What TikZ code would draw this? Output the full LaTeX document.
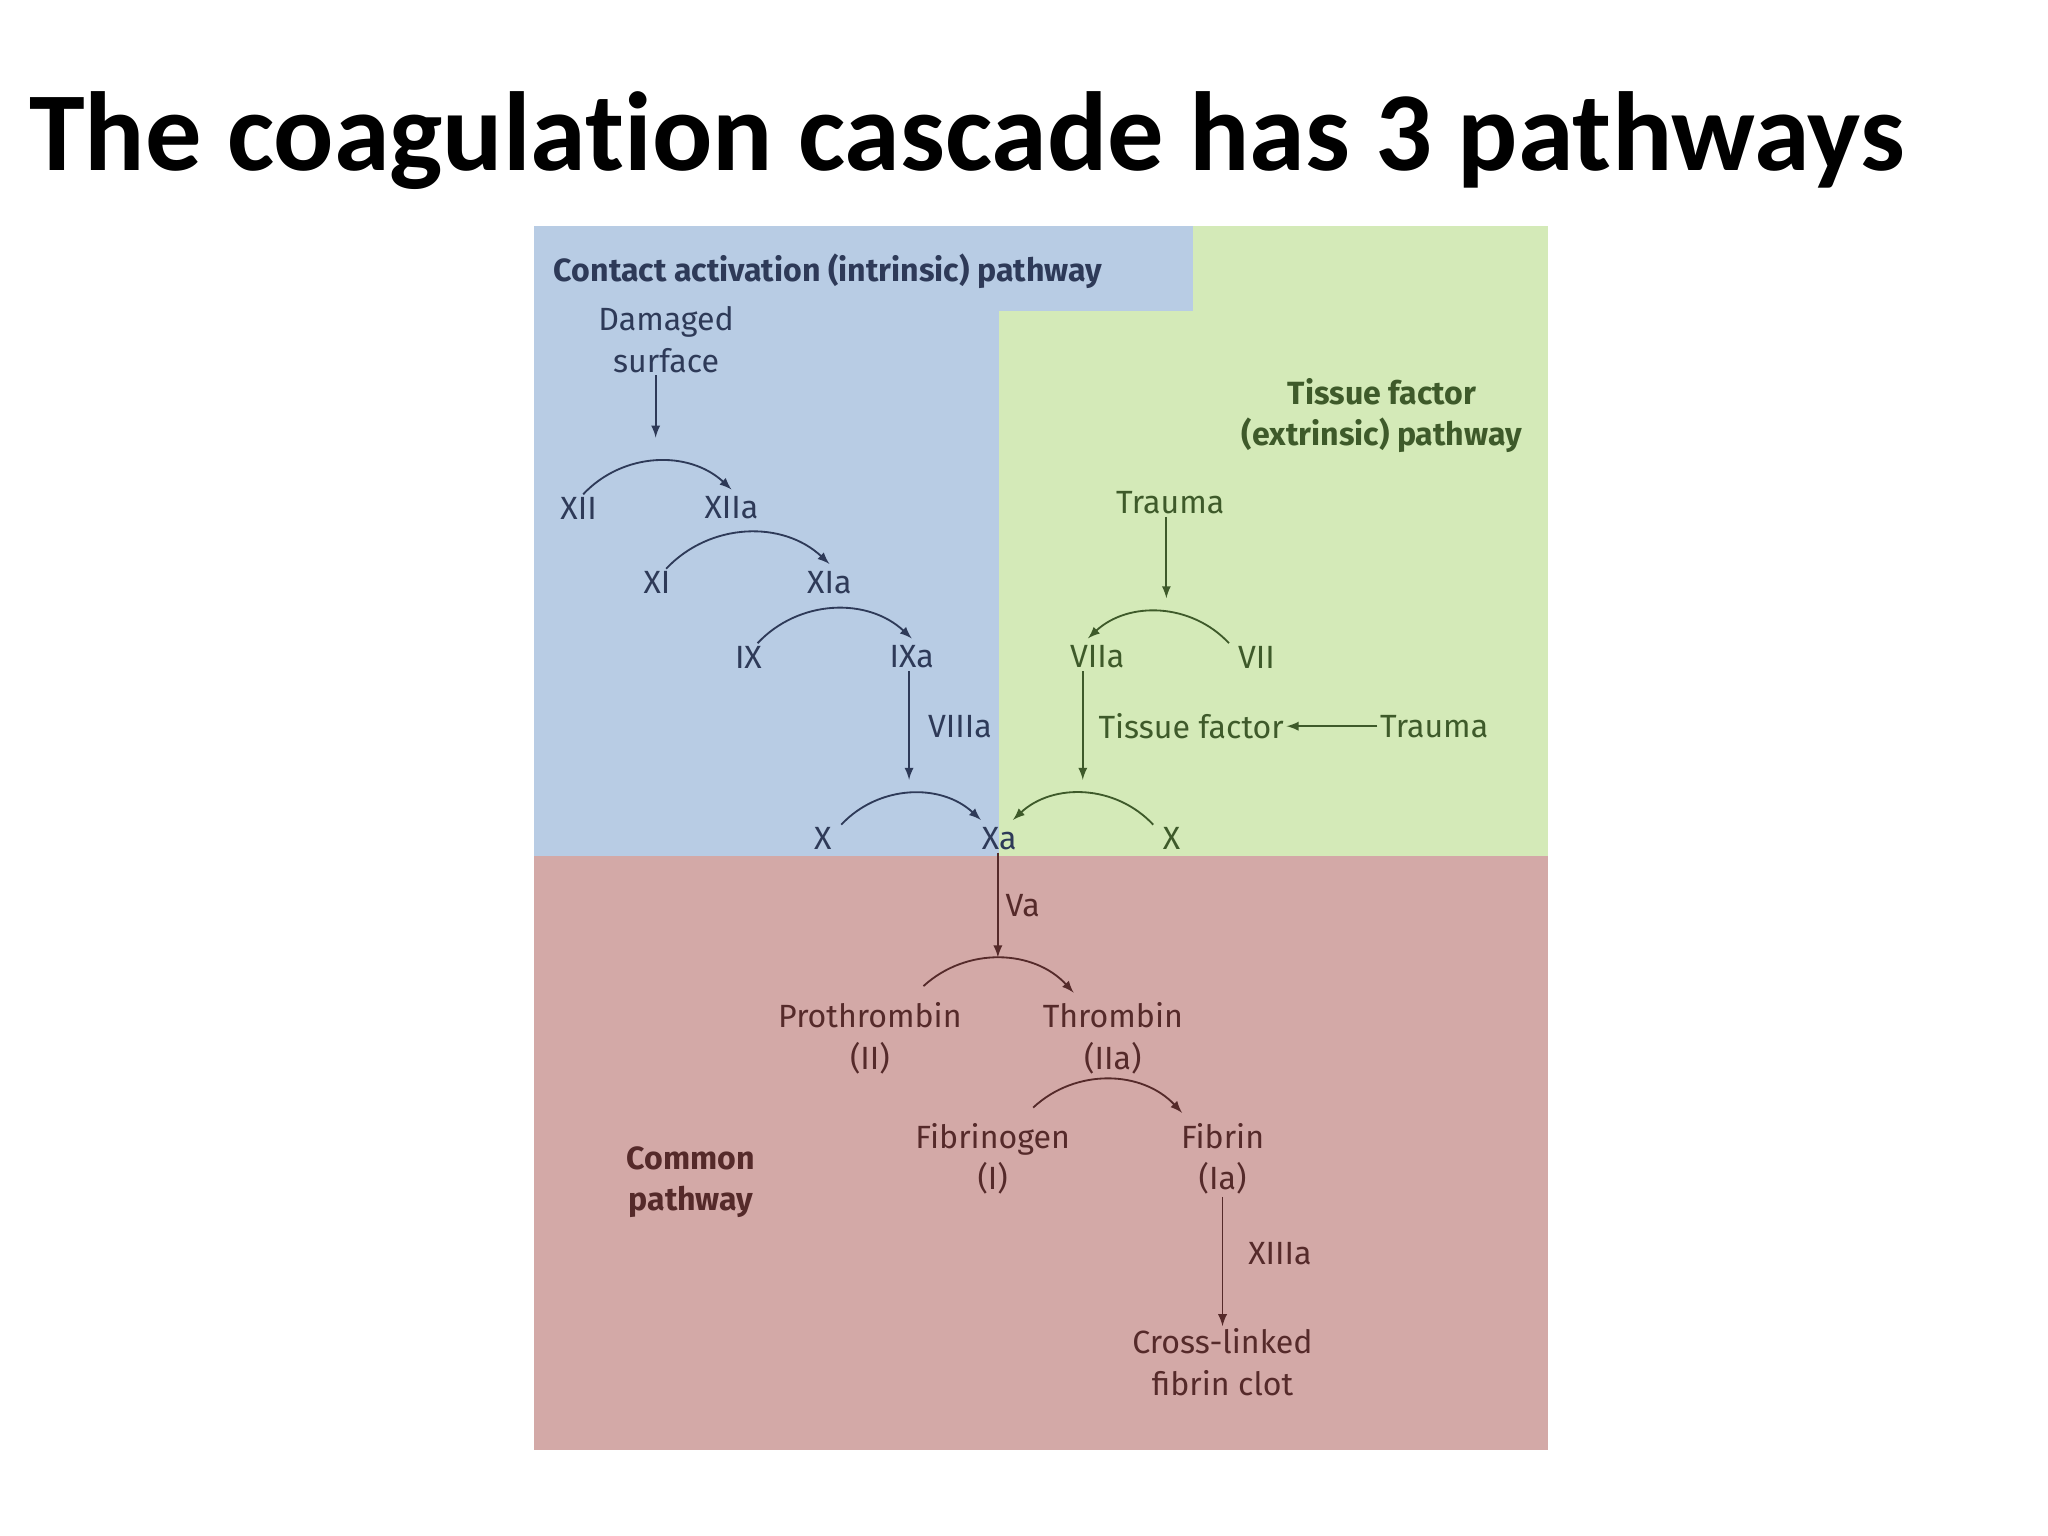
\documentclass[tikz,border=0pt]{standalone}
\usepackage{fontspec}
\setmainfont{Fira Sans}
\newfontfamily\titlefont[Ligatures=NoCommon]{Carlito}
\usetikzlibrary{positioning}
\definecolor{intrfill}{HTML}{B8CCE4}
\definecolor{extrfill}{HTML}{D4EAB8}
\definecolor{commfill}{HTML}{D3A9A7}
\definecolor{intrtext}{HTML}{2E3A58}
\definecolor{extrtext}{HTML}{3E5A2A}
\definecolor{commtext}{HTML}{552A2A}
\tikzset{
  lbl/.style={font=\fontsize{14}{18}\selectfont, align=center, inner sep=1pt},
  head/.style={lbl, font=\fontsize{14}{18}\selectfont\bfseries},
  arr/.style={->, >=latex, line width=0.8pt},
  arc/.style={arr, bend left=45},
}
\begin{document}
\begin{tikzpicture}[x=0.02cm, y=-0.02cm]
	\useasboundingbox (0,0) rectangle (1568,1176);
	
	% backgrounds
	\fill[intrfill] (409,173) rectangle (765,655);
	\fill[intrfill] (765,173) rectangle (913,238);
	\fill[extrfill] (765,238) rectangle (1185,655);
	\fill[extrfill] (913,173) rectangle (1185,238);
	\fill[commfill] (409,655) rectangle (1185,1110);
	
	\node[anchor=west, font=\titlefont\fontsize{49}{53}\selectfont\bfseries] (title) at (16,108) {The coagulation cascade has 3 pathways};
	
	% intrinsic
	\begin{scope}[intrtext, every node/.style={lbl, text=intrtext}]
		\node[head, anchor=west, text=intrtext] (intr) at (422,208) {Contact activation (intrinsic) pathway};
		\node (dam) at (510,260) {Damaged\\surface};
		\coordinate (dam end) at (502,335);
		\node (xii) at (443,389) {XII};
		\node (xiia) at (560,389) {XIIa};
		\node (xi) at (503,446) {XI};
		\node (xia) at (635,446) {XIa};
		\node (ix) at (573,503) {IX};
		\node (ixa) at (698,503) {IXa};
		\coordinate (ixa end) at (696,597);
		\node (viiia) at (735,556) {VIIIa};
		\node (xl) at (630,642) {X};
		\node (xa) at (765,642) {Xa};
		
		\draw[arr] (dam.south -| dam end) -- (dam end);
		\draw[arc] ([xshift=2pt]xii.north) to ([yshift=2pt]xiia.north);
		\draw[arc] ([xshift=4pt]xi.north) to ([yshift=2pt]xia.north);
		\draw[arc] ([xshift=4pt]ix.north) to ([yshift=2pt]ixa.north);
		\draw[arr] (ixa.south -| ixa end) -- (ixa end);
		\draw[arc] ([xshift=8pt]xl.north) to ([xshift=-8pt,yshift=2pt]xa.north);
	\end{scope}
	
	% extrinsic
	\begin{scope}[extrtext, every node/.style={lbl, text=extrtext}]
		\node[head, text=extrtext] (extr) at (1058,318) {Tissue factor\\(extrinsic) pathway};
		\node (trauma) at (896,385) {Trauma};
		\coordinate (trauma end) at (893,458);
		\node (viia) at (840,503) {VIIa};
		\node (vii) at (962,503) {VII};
		\node (tf) at (912,556) {Tissue factor};
		\node (trauma2) at (1098,556) {Trauma};
		\coordinate (viia end) at (829,597);
		\node (xr) at (897,642) {X};
		
		\draw[arr] (trauma.south -| trauma end) -- (trauma end);
		\draw[arr, bend right=45] ([xshift=-12pt]vii.north) to ([xshift=-4pt,yshift=2pt]viia.north);
		\draw[arr] (trauma2) -- (tf);
		\draw[arr] (viia.south -| viia end) -- (viia end);
		\draw[arr, bend right=45] ([xshift=-8pt]xr.north) to ([xshift=6pt,yshift=2pt]xa.north);
	\end{scope}
	
	% common
	\begin{scope}[commtext, every node/.style={lbl, text=commtext}]
		\node[head, text=commtext] (comm) at (529,905) {Common\\pathway};
		\coordinate (xa end) at (764,733);
		\node (va) at (783,693) {Va};
		\node (pro) at (666,795) {Prothrombin\\(II)};
		\node (thr) at (852,795) {Thrombin\\(IIa)};
		\node (fbg) at (760,887) {Fibrinogen\\(I)};
		\node (fib) at (936,887) {Fibrin\\(Ia)};
		\node (xiiia) at (980,960) {XIIIa};
		\node (clot) at (936,1043) {Cross-linked\\fibrin clot};
		\coordinate (pro arc) at (707,755);
		\coordinate (thr arc) at (822,760);
		\coordinate (fbg arc) at (791,848);
		\coordinate (fib arc) at (905,852);
		
		\draw[arr] (xa.south -| xa end) -- (xa end);
		\draw[arc] (pro arc) to (thr arc);
		\draw[arc] (fbg arc) to (fib arc);
		\draw[arr] (fib) -- (clot);
	\end{scope}
\end{tikzpicture}
\end{document}
